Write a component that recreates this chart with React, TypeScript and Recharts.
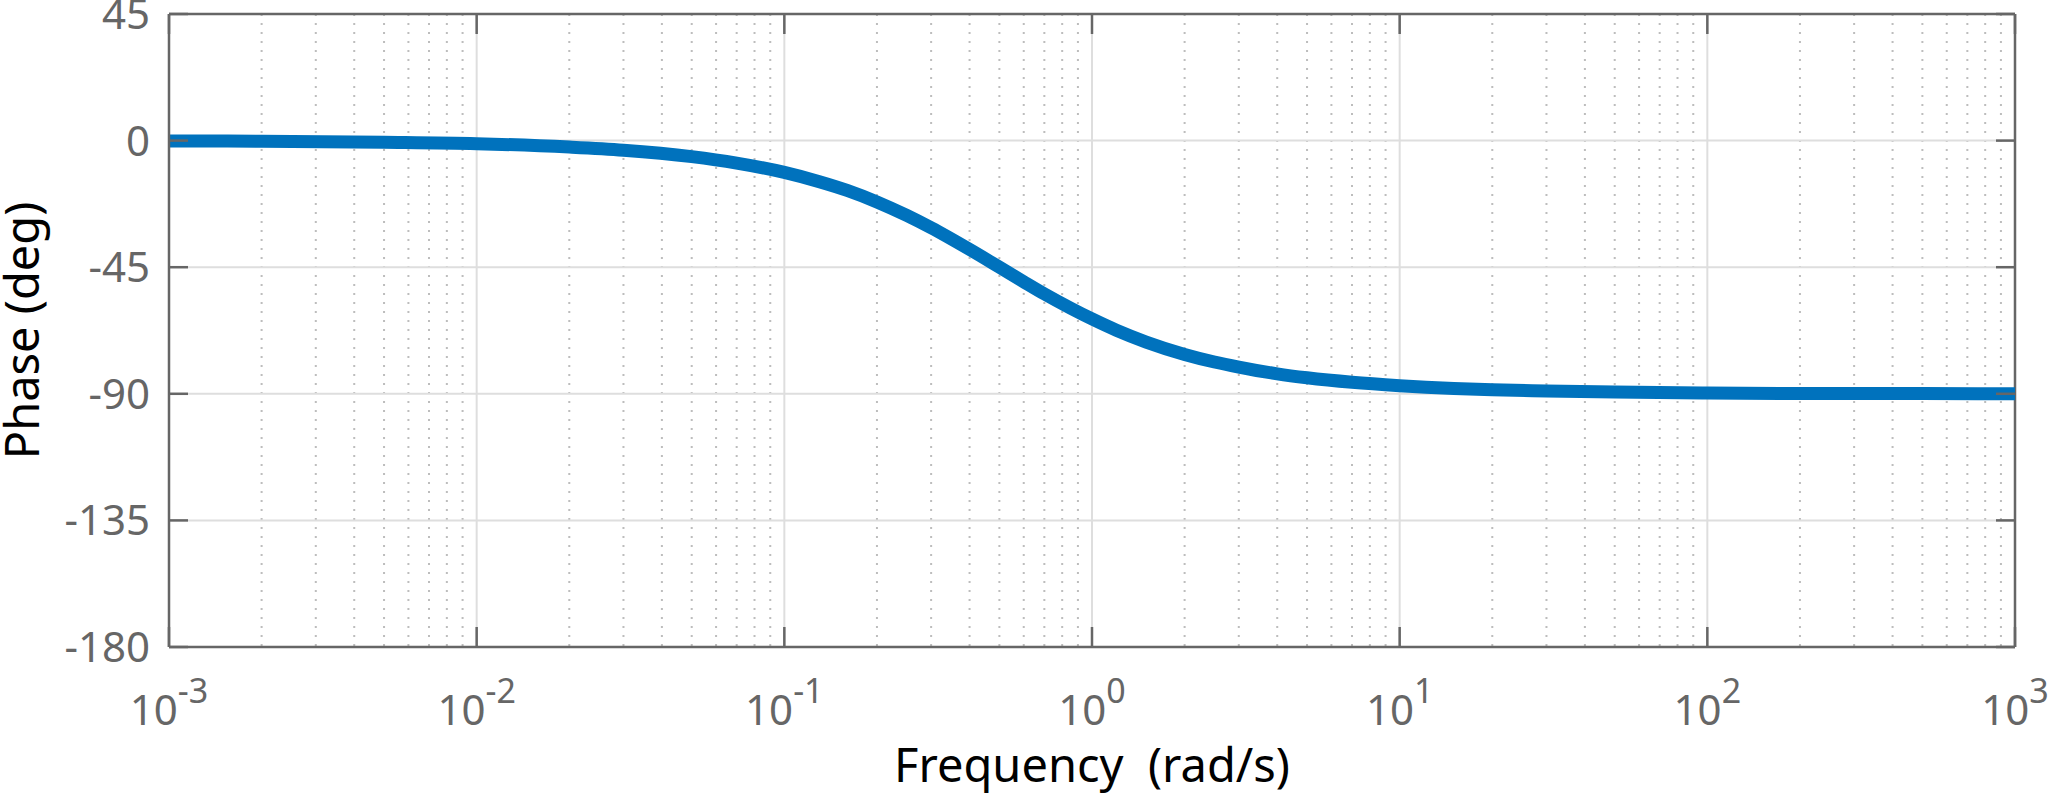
import { LineChart, Line, XAxis, YAxis, CartesianGrid, ReferenceLine } from 'recharts'

// decade ticks of the frequency axis and their exponent labels
const decades = [0.001, 0.01, 0.1, 1, 10, 100, 1000]
const decadeExponents = ['-3', '-2', '-1', '0', '1', '2', '3']
const minorMultipliers = [2, 3, 4, 5, 6, 7, 8, 9]

const phaseTicks = [-180, -135, -90, -45, 0, 45]

const frequency = [
    0.001, 0.002, 0.005, 0.01, 0.02, 0.03, 0.05, 0.07, 0.1, 0.13, 0.16, 0.2, 0.25, 0.3, 0.4,
    0.5, 0.6, 0.7, 0.85, 1, 1.2, 1.5, 2, 2.5, 3, 4, 5, 7, 10, 15, 20, 30, 50, 100, 200, 500, 1000,
]
const phase = [
    -0.1, -0.2, -0.6, -1.1, -2.3, -3.4, -5.7, -8.0, -11.3, -14.6, -17.7, -21.8, -26.6, -31.0,
    -38.7, -45.0, -50.2, -54.5, -59.5, -63.4, -67.4, -71.6, -76.0, -78.7, -80.5, -82.9, -84.3,
    -85.9, -87.1, -88.1, -88.6, -89.0, -89.4, -89.7, -89.9, -89.9, -90.0,
]

const data = frequency.map((f, i) => ({ freq: f, phase: phase[i] }))

const minorTicks = decades
    .slice(0, -1)
    .flatMap((d) => minorMultipliers.map((m) => Number((d * m).toPrecision(3))))

const W = 2048
const H = 795
const PLOT_LEFT = 169
const PLOT_RIGHT = 2015
const PLOT_TOP = 14
const PLOT_BOTTOM = 647

const AXIS = '#666666'
const FONT = '"Noto Sans", "Open Sans", sans-serif'

const MajorXTick = (props: any) => {
    const { x, payload } = props
    const idx = decades.indexOf(payload.value)
    return (
        <g>
            <line x1={x} x2={x} y1={PLOT_BOTTOM} y2={PLOT_BOTTOM - 20} stroke={AXIS} strokeWidth={2.5} />
            <line x1={x} x2={x} y1={PLOT_TOP} y2={PLOT_TOP + 20} stroke={AXIS} strokeWidth={2.5} />
            <text x={x} y={725} textAnchor="middle" fill={AXIS} fontSize={42} fontFamily={FONT}>
                <tspan>10</tspan>
                <tspan dy={-22} fontSize={34}>
                    {decadeExponents[idx]}
                </tspan>
            </text>
        </g>
    )
}

const MinorXTick = (props: any) => {
    const { x } = props
    return (
        <g>
            <line x1={x} x2={x} y1={PLOT_BOTTOM} y2={PLOT_BOTTOM - 11} stroke={AXIS} strokeWidth={2.5} />
            <line x1={x} x2={x} y1={PLOT_TOP} y2={PLOT_TOP + 11} stroke={AXIS} strokeWidth={2.5} />
        </g>
    )
}

const YTick = (props: any) => {
    const { y, payload } = props
    return (
        <g>
            <line x1={PLOT_LEFT} x2={PLOT_LEFT + 19} y1={y} y2={y} stroke={AXIS} strokeWidth={2.5} />
            <line x1={PLOT_RIGHT} x2={PLOT_RIGHT - 19} y1={y} y2={y} stroke={AXIS} strokeWidth={2.5} />
            <text x={150} y={y + 15} textAnchor="end" fill={AXIS} fontSize={42} fontFamily={FONT}>
                {payload.value}
            </text>
        </g>
    )
}

const App = () => {
    return (
        <div style={{ position: 'absolute', left: 0, top: 0, width: W, height: H, background: '#fff' }}>
            <LineChart
                width={W}
                height={H}
                data={data}
                margin={{ top: PLOT_TOP, right: W - PLOT_RIGHT, bottom: 0, left: 0 }}
            >
                <CartesianGrid xAxisId="minor" horizontal={false} stroke="#bdbdbd" strokeWidth={2} strokeDasharray="2 7" />
                <CartesianGrid stroke="#dedede" strokeWidth={2} />
                <XAxis
                    dataKey="freq"
                    type="number"
                    scale="log"
                    domain={[0.001, 1000]}
                    allowDataOverflow
                    ticks={decades}
                    interval={0}
                    height={H - PLOT_BOTTOM}
                    axisLine={{ stroke: AXIS, strokeWidth: 2.5 }}
                    tickLine={false}
                    tick={MajorXTick}
                    label={() => (
                        <text x={(PLOT_LEFT + PLOT_RIGHT) / 2} y={782} textAnchor="middle" fill="#000" fontSize={47} fontFamily={FONT} style={{ whiteSpace: 'pre' }}>
                            Frequency  (rad/s)
                        </text>
                    )}
                />
                <XAxis
                    xAxisId="minor"
                    dataKey="freq"
                    type="number"
                    scale="log"
                    domain={[0.001, 1000]}
                    allowDataOverflow
                    ticks={minorTicks}
                    interval={0}
                    height={0}
                    axisLine={false}
                    tickLine={false}
                    tick={MinorXTick}
                />
                <YAxis
                    type="number"
                    domain={[-180, 45]}
                    ticks={phaseTicks}
                    interval={0}
                    width={PLOT_LEFT}
                    axisLine={{ stroke: AXIS, strokeWidth: 2.5 }}
                    tickLine={false}
                    tick={YTick}
                    label={() => (
                        <text
                            x={39}
                            y={(PLOT_TOP + PLOT_BOTTOM) / 2}
                            transform={`rotate(-90, 39, ${(PLOT_TOP + PLOT_BOTTOM) / 2})`}
                            textAnchor="middle"
                            fill="#000"
                            fontSize={47}
                            fontFamily={FONT}
                        >
                            Phase (deg)
                        </text>
                    )}
                />
                <ReferenceLine y={45} stroke={AXIS} strokeWidth={2.5} />
                <ReferenceLine x={1000} stroke={AXIS} strokeWidth={2.5} />
                <Line
                    type="monotone"
                    dataKey="phase"
                    stroke="#0072BD"
                    strokeWidth={13}
                    dot={false}
                    activeDot={false}
                    isAnimationActive={false}
                />
            </LineChart>
        </div>
    )
}

export default App
